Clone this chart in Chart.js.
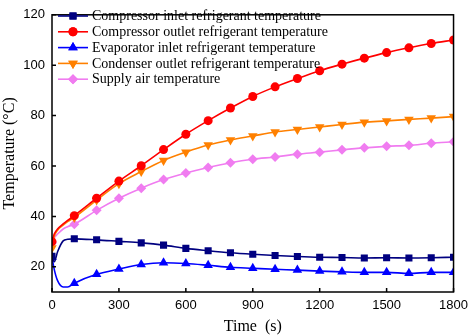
<!DOCTYPE html>
<html><head><meta charset="utf-8">
<script src="https://cdn.jsdelivr.net/npm/chart.js@4"></script>
<style>html,body{margin:0;padding:0;background:#fff;}#wrap{width:474px;height:336px;}</style>
</head><body><div id="wrap"><canvas id="c" width="474" height="336"></canvas></div>
<script>
const timeS = [0, 10, 25, 50, 70, 100, 200, 300, 400, 500, 600, 700, 800, 900, 1000, 1100, 1200, 1300, 1400, 1500, 1600, 1700, 1800];
const compressorInlet  = [24.2, 22.0, 26.0, 30.3, 30.9, 31.1, 30.7, 30.1, 29.5, 28.6, 27.3, 26.4, 25.6, 25.0, 24.5, 24.1, 23.8, 23.7, 23.5, 23.6, 23.5, 23.6, 23.8];
const compressorOutlet = [30.0, 33.0, 35.0, 37.0, 38.4, 40.3, 47.2, 54.0, 60.1, 66.5, 72.6, 78.0, 83.0, 87.6, 91.4, 94.7, 97.8, 100.4, 102.8, 105.0, 106.9, 108.6, 110.0];
const evaporatorInlet  = [23.8, 19.0, 14.5, 12.0, 12.0, 13.5, 17.0, 19.1, 20.9, 21.6, 21.3, 20.6, 19.8, 19.4, 19.0, 18.7, 18.3, 18.0, 17.8, 17.8, 17.4, 17.8, 17.8];
const condenserOutlet  = [27.5, 32.0, 34.5, 36.5, 37.9, 39.6, 46.5, 53.0, 57.8, 62.2, 65.5, 68.3, 70.3, 71.9, 73.5, 74.5, 75.5, 76.5, 77.4, 77.9, 78.5, 79.0, 79.6];
const supplyAir        = [29.5, 31.5, 33.0, 35.0, 35.9, 36.9, 42.4, 47.2, 51.2, 54.6, 57.2, 59.4, 61.3, 62.7, 63.6, 64.7, 65.5, 66.4, 67.2, 67.8, 68.2, 69.0, 69.6];
const seriesLabels = ['Compressor inlet refrigerant temperature','Compressor outlet refrigerant temperature','Evaporator inlet refrigerant temperature','Condenser outlet refrigerant temperature','Supply air temperature'];
const xTicks = [0, 300, 600, 900, 1200, 1500, 1800];
const yTicks = [20, 40, 60, 80, 100, 120];

const styles = [
  {color:'#000080', pointStyle:'rect', radius:5, rotation:0},
  {color:'#ff0000', pointStyle:'circle', radius:4.5, rotation:0},
  {color:'#0000ff', pointStyle:'triangle', radius:5.5, rotation:0},
  {color:'#ff8000', pointStyle:'triangle', radius:5.5, rotation:180},
  {color:'#f07cf0', pointStyle:'rectRot', radius:5, rotation:0}
];
const allSeries = [compressorInlet, compressorOutlet, evaporatorInlet, condenserOutlet, supplyAir];

const datasets = allSeries.map((vals, i) => ({
  label: seriesLabels[i],
  data: timeS.map((t, k) => ({x: t, y: vals[k]})),
  borderColor: styles[i].color,
  backgroundColor: styles[i].color,
  borderWidth: 1.6,
  pointStyle: styles[i].pointStyle,
  pointRotation: styles[i].rotation,
  pointRadius: timeS.map(t => t % 100 === 0 ? styles[i].radius : 0),
  pointBorderWidth: 0,
  pointHoverRadius: 0,
  cubicInterpolationMode: 'monotone',
  showLine: true
}));

const framePlugin = {
  id: 'frame',
  afterDatasetsDraw(chart) {
    const {ctx, chartArea: a, scales} = chart;
    ctx.save();
    ctx.strokeStyle = '#000';
    ctx.lineWidth = 1.5;
    ctx.strokeRect(a.left, a.top, a.right - a.left, a.bottom - a.top);
    ctx.beginPath();
    xTicks.forEach(v => { const px = scales.x.getPixelForValue(v); ctx.moveTo(px, a.bottom); ctx.lineTo(px, a.bottom - 4); });
    yTicks.forEach(v => { const py = scales.y.getPixelForValue(v); ctx.moveTo(a.left, py); ctx.lineTo(a.left + 4, py); });
    ctx.stroke();
    // legend
    ctx.font = '14px "Liberation Serif", "Times New Roman", serif';
    ctx.textBaseline = 'middle';
    ctx.textAlign = 'left';
    chart.data.datasets.forEach((ds, i) => {
      const y = 16 + i * 15.8;
      ctx.strokeStyle = styles[i].color;
      ctx.lineWidth = 1.6;
      ctx.beginPath(); ctx.moveTo(58, y); ctx.lineTo(88, y); ctx.stroke();
      ctx.fillStyle = styles[i].color;
      Chart.helpers.drawPoint(ctx, {pointStyle: styles[i].pointStyle, radius: styles[i].radius, rotation: styles[i].rotation, borderWidth: 0}, 73, y);
      ctx.fill();
      ctx.fillStyle = '#000';
      ctx.fillText(ds.label, 92, y + 0.5);
    });
    ctx.restore();
  }
};

new Chart(document.getElementById('c'), {
  type: 'scatter',
  data: {datasets},
  plugins: [framePlugin],
  options: {
    responsive: false,
    animation: false,
    events: [],
    layout: {padding: {top: 4.5, right: 14, left: 0, bottom: 0}},
    plugins: {legend: {display: false}, tooltip: {enabled: false}},
    scales: {
      x: {
        type: 'linear', min: 0, max: 1800,
        afterBuildTicks: s => { s.ticks = xTicks.map(v => ({value: v})); },
        afterFit: s => { s.height = 44; },
        grid: {display: false, drawTicks: false},
        border: {display: false},
        ticks: {color: '#000', padding: 6, callback: v => String(v), font: {family: '"Liberation Sans", Arial, sans-serif', size: 13}, maxRotation: 0},
        title: {display: true, text: 'Time  (s)', color: '#000', padding: {top: 0, bottom: 0}, font: {family: '"Liberation Serif", "Times New Roman", serif', size: 16}}
      },
      y: {
        type: 'linear', min: 10, max: 120,
        afterBuildTicks: s => { s.ticks = yTicks.map(v => ({value: v})); },
        afterFit: s => { s.width = 52; },
        grid: {display: false, drawTicks: false},
        border: {display: false},
        ticks: {color: '#000', padding: 7, callback: v => String(v), font: {family: '"Liberation Sans", Arial, sans-serif', size: 13}},
        title: {display: true, text: 'Temperature (°C)', color: '#000', padding: {top: 0, bottom: 0}, font: {family: '"Liberation Serif", "Times New Roman", serif', size: 16}}
      }
    }
  }
});
</script></body></html>
